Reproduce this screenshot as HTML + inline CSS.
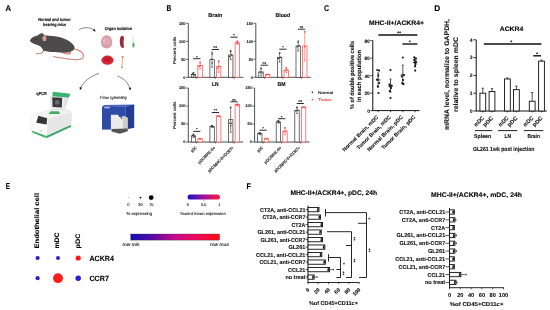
<!DOCTYPE html>
<html><head><meta charset="utf-8"><title>Figure</title>
<style>
html,body{margin:0;padding:0;background:#fff;width:550px;height:310px;overflow:hidden}
svg{display:block}
text{text-rendering:geometricPrecision;font-family:"Liberation Sans", Arial, sans-serif}
</style></head>
<body>
<svg width="550" height="310" viewBox="0 0 550 310">
<defs>
<linearGradient id="gsm" x1="0" x2="1" y1="0" y2="0">
<stop offset="0" stop-color="#1a10c8"/><stop offset="0.5" stop-color="#a0109a"/><stop offset="1" stop-color="#ff1a3a"/>
</linearGradient>
<linearGradient id="grow" x1="0" x2="1" y1="0" y2="0">
<stop offset="0" stop-color="#1010b0"/><stop offset="0.25" stop-color="#5a0aa6"/><stop offset="0.5" stop-color="#c80a8a"/><stop offset="0.75" stop-color="#f00a55"/><stop offset="1" stop-color="#ff0a12"/>
</linearGradient>
</defs>
<rect width="550" height="310" fill="#fff"/>
<text x="215.30" y="17.00" font-size="5.6" font-weight="bold" text-anchor="middle" fill="#000" textLength="14.00" lengthAdjust="spacingAndGlyphs" stroke="#000" stroke-width="0.1">Brain</text>
<line x1="188.30" y1="23.30" x2="188.30" y2="77.60" stroke="#333" stroke-width="0.85"/>
<line x1="188.00" y1="77.30" x2="243.30" y2="77.30" stroke="#333" stroke-width="0.85"/>
<line x1="185.90" y1="77.30" x2="188.30" y2="77.30" stroke="#333" stroke-width="0.7"/>
<text x="185.50" y="78.70" font-size="3.9" font-weight="bold" text-anchor="end" fill="#222" stroke="#222" stroke-width="0.1">0</text>
<line x1="185.90" y1="59.30" x2="188.30" y2="59.30" stroke="#333" stroke-width="0.7"/>
<text x="185.50" y="60.70" font-size="3.9" font-weight="bold" text-anchor="end" fill="#222" stroke="#222" stroke-width="0.1">50</text>
<line x1="185.90" y1="41.30" x2="188.30" y2="41.30" stroke="#333" stroke-width="0.7"/>
<text x="185.50" y="42.70" font-size="3.9" font-weight="bold" text-anchor="end" fill="#222" stroke="#222" stroke-width="0.1">100</text>
<line x1="185.90" y1="23.30" x2="188.30" y2="23.30" stroke="#333" stroke-width="0.7"/>
<text x="185.50" y="24.70" font-size="3.9" font-weight="bold" text-anchor="end" fill="#222" stroke="#222" stroke-width="0.1">150</text>
<text x="176.20" y="50.50" font-size="4.2" font-weight="normal" text-anchor="middle" fill="#111" transform="rotate(-90 176.20 50.50)" textLength="27.50" lengthAdjust="spacingAndGlyphs" stroke="#111" stroke-width="0.12">Percent cells</text>
<line x1="196.80" y1="77.30" x2="196.80" y2="78.90" stroke="#333" stroke-width="0.7"/>
<rect x="191.30" y="74.42" width="4.40" height="2.88" fill="#fff" stroke="#333" stroke-width="0.7"/>
<line x1="193.50" y1="76.22" x2="193.50" y2="72.62" stroke="#333" stroke-width="0.6"/>
<line x1="192.50" y1="72.62" x2="194.50" y2="72.62" stroke="#333" stroke-width="0.6"/>
<line x1="192.50" y1="76.22" x2="194.50" y2="76.22" stroke="#333" stroke-width="0.6"/>
<circle cx="192.50" cy="73.70" r="0.75" fill="#333"/>
<circle cx="194.30" cy="74.78" r="0.75" fill="#333"/>
<circle cx="193.50" cy="72.98" r="0.75" fill="#333"/>
<rect x="197.90" y="65.42" width="4.40" height="11.88" fill="#fff" stroke="#ff4646" stroke-width="0.7"/>
<line x1="200.10" y1="69.02" x2="200.10" y2="61.82" stroke="#ff4646" stroke-width="0.6"/>
<line x1="199.10" y1="61.82" x2="201.10" y2="61.82" stroke="#ff4646" stroke-width="0.6"/>
<line x1="199.10" y1="69.02" x2="201.10" y2="69.02" stroke="#ff4646" stroke-width="0.6"/>
<circle cx="200.10" cy="62.90" r="0.75" fill="#ff4646"/>
<circle cx="199.10" cy="66.50" r="0.75" fill="#ff4646"/>
<circle cx="201.10" cy="65.42" r="0.75" fill="#ff4646"/>
<line x1="193.20" y1="58.70" x2="200.40" y2="58.70" stroke="#111" stroke-width="0.9"/>
<text x="196.80" y="58.51" font-size="4.4" font-weight="bold" text-anchor="middle" fill="#000">*</text>
<line x1="215.40" y1="77.30" x2="215.40" y2="78.90" stroke="#333" stroke-width="0.7"/>
<rect x="209.90" y="59.66" width="4.40" height="17.64" fill="#fff" stroke="#333" stroke-width="0.7"/>
<line x1="212.10" y1="67.22" x2="212.10" y2="52.10" stroke="#333" stroke-width="0.6"/>
<line x1="211.10" y1="52.10" x2="213.10" y2="52.10" stroke="#333" stroke-width="0.6"/>
<line x1="211.10" y1="67.22" x2="213.10" y2="67.22" stroke="#333" stroke-width="0.6"/>
<circle cx="212.10" cy="53.90" r="0.75" fill="#333"/>
<circle cx="212.10" cy="62.90" r="0.75" fill="#333"/>
<circle cx="211.10" cy="59.30" r="0.75" fill="#333"/>
<rect x="216.50" y="66.50" width="4.40" height="10.80" fill="#fff" stroke="#ff4646" stroke-width="0.7"/>
<line x1="218.70" y1="72.26" x2="218.70" y2="60.74" stroke="#ff4646" stroke-width="0.6"/>
<line x1="217.70" y1="60.74" x2="219.70" y2="60.74" stroke="#ff4646" stroke-width="0.6"/>
<line x1="217.70" y1="72.26" x2="219.70" y2="72.26" stroke="#ff4646" stroke-width="0.6"/>
<circle cx="218.70" cy="61.46" r="0.75" fill="#ff4646"/>
<circle cx="217.70" cy="68.30" r="0.75" fill="#ff4646"/>
<circle cx="219.70" cy="66.50" r="0.75" fill="#ff4646"/>
<line x1="211.80" y1="49.50" x2="219.00" y2="49.50" stroke="#111" stroke-width="0.9"/>
<text x="215.40" y="48.30" font-size="3.6" font-weight="bold" text-anchor="middle" fill="#222" textLength="3.60" lengthAdjust="spacingAndGlyphs" stroke="#222" stroke-width="0.1">ns</text>
<line x1="234.00" y1="77.30" x2="234.00" y2="78.90" stroke="#333" stroke-width="0.7"/>
<rect x="228.50" y="54.98" width="4.40" height="22.32" fill="#fff" stroke="#333" stroke-width="0.7"/>
<line x1="230.70" y1="59.66" x2="230.70" y2="50.30" stroke="#333" stroke-width="0.6"/>
<line x1="229.70" y1="50.30" x2="231.70" y2="50.30" stroke="#333" stroke-width="0.6"/>
<line x1="229.70" y1="59.66" x2="231.70" y2="59.66" stroke="#333" stroke-width="0.6"/>
<circle cx="230.70" cy="51.38" r="0.75" fill="#333"/>
<circle cx="229.70" cy="56.42" r="0.75" fill="#333"/>
<circle cx="231.70" cy="54.98" r="0.75" fill="#333"/>
<rect x="235.10" y="42.74" width="4.40" height="34.56" fill="#fff" stroke="#ff4646" stroke-width="0.7"/>
<line x1="237.30" y1="44.54" x2="237.30" y2="40.94" stroke="#ff4646" stroke-width="0.6"/>
<line x1="236.30" y1="40.94" x2="238.30" y2="40.94" stroke="#ff4646" stroke-width="0.6"/>
<line x1="236.30" y1="44.54" x2="238.30" y2="44.54" stroke="#ff4646" stroke-width="0.6"/>
<circle cx="237.30" cy="41.30" r="0.75" fill="#ff4646"/>
<circle cx="238.30" cy="43.10" r="0.75" fill="#ff4646"/>
<circle cx="236.30" cy="42.74" r="0.75" fill="#ff4646"/>
<line x1="230.40" y1="37.20" x2="237.60" y2="37.20" stroke="#111" stroke-width="0.9"/>
<text x="234.00" y="37.01" font-size="4.4" font-weight="bold" text-anchor="middle" fill="#000">*</text>
<text x="282.80" y="17.00" font-size="5.6" font-weight="bold" text-anchor="middle" fill="#000" textLength="14.40" lengthAdjust="spacingAndGlyphs" stroke="#000" stroke-width="0.1">Blood</text>
<line x1="255.80" y1="23.30" x2="255.80" y2="77.60" stroke="#333" stroke-width="0.85"/>
<line x1="255.50" y1="77.30" x2="310.80" y2="77.30" stroke="#333" stroke-width="0.85"/>
<line x1="253.40" y1="77.30" x2="255.80" y2="77.30" stroke="#333" stroke-width="0.7"/>
<text x="253.00" y="78.70" font-size="3.9" font-weight="bold" text-anchor="end" fill="#222" stroke="#222" stroke-width="0.1">0</text>
<line x1="253.40" y1="59.30" x2="255.80" y2="59.30" stroke="#333" stroke-width="0.7"/>
<text x="253.00" y="60.70" font-size="3.9" font-weight="bold" text-anchor="end" fill="#222" stroke="#222" stroke-width="0.1">50</text>
<line x1="253.40" y1="41.30" x2="255.80" y2="41.30" stroke="#333" stroke-width="0.7"/>
<text x="253.00" y="42.70" font-size="3.9" font-weight="bold" text-anchor="end" fill="#222" stroke="#222" stroke-width="0.1">100</text>
<line x1="253.40" y1="23.30" x2="255.80" y2="23.30" stroke="#333" stroke-width="0.7"/>
<text x="253.00" y="24.70" font-size="3.9" font-weight="bold" text-anchor="end" fill="#222" stroke="#222" stroke-width="0.1">150</text>
<line x1="264.30" y1="77.30" x2="264.30" y2="78.90" stroke="#333" stroke-width="0.7"/>
<rect x="258.80" y="71.90" width="4.40" height="5.40" fill="#fff" stroke="#333" stroke-width="0.7"/>
<line x1="261.00" y1="75.86" x2="261.00" y2="67.94" stroke="#333" stroke-width="0.6"/>
<line x1="260.00" y1="67.94" x2="262.00" y2="67.94" stroke="#333" stroke-width="0.6"/>
<line x1="260.00" y1="75.86" x2="262.00" y2="75.86" stroke="#333" stroke-width="0.6"/>
<circle cx="261.00" cy="68.66" r="0.75" fill="#333"/>
<circle cx="260.00" cy="72.26" r="0.75" fill="#333"/>
<circle cx="262.00" cy="72.98" r="0.75" fill="#333"/>
<rect x="265.40" y="74.42" width="4.40" height="2.88" fill="#fff" stroke="#ff4646" stroke-width="0.7"/>
<line x1="267.60" y1="74.78" x2="267.60" y2="74.06" stroke="#ff4646" stroke-width="0.6"/>
<line x1="266.60" y1="74.06" x2="268.60" y2="74.06" stroke="#ff4646" stroke-width="0.6"/>
<line x1="266.60" y1="74.78" x2="268.60" y2="74.78" stroke="#ff4646" stroke-width="0.6"/>
<circle cx="266.60" cy="74.42" r="0.75" fill="#ff4646"/>
<circle cx="268.60" cy="74.42" r="0.75" fill="#ff4646"/>
<line x1="260.70" y1="65.20" x2="267.90" y2="65.20" stroke="#111" stroke-width="0.9"/>
<text x="264.30" y="64.00" font-size="3.6" font-weight="bold" text-anchor="middle" fill="#222" textLength="3.60" lengthAdjust="spacingAndGlyphs" stroke="#222" stroke-width="0.1">ns</text>
<line x1="282.90" y1="77.30" x2="282.90" y2="78.90" stroke="#333" stroke-width="0.7"/>
<rect x="277.40" y="57.50" width="4.40" height="19.80" fill="#fff" stroke="#333" stroke-width="0.7"/>
<line x1="279.60" y1="62.18" x2="279.60" y2="52.82" stroke="#333" stroke-width="0.6"/>
<line x1="278.60" y1="52.82" x2="280.60" y2="52.82" stroke="#333" stroke-width="0.6"/>
<line x1="278.60" y1="62.18" x2="280.60" y2="62.18" stroke="#333" stroke-width="0.6"/>
<circle cx="279.60" cy="53.54" r="0.75" fill="#333"/>
<circle cx="278.60" cy="58.58" r="0.75" fill="#333"/>
<circle cx="280.60" cy="57.14" r="0.75" fill="#333"/>
<rect x="284.00" y="70.10" width="4.40" height="7.20" fill="#fff" stroke="#ff4646" stroke-width="0.7"/>
<line x1="286.20" y1="72.62" x2="286.20" y2="67.58" stroke="#ff4646" stroke-width="0.6"/>
<line x1="285.20" y1="67.58" x2="287.20" y2="67.58" stroke="#ff4646" stroke-width="0.6"/>
<line x1="285.20" y1="72.62" x2="287.20" y2="72.62" stroke="#ff4646" stroke-width="0.6"/>
<circle cx="286.20" cy="67.94" r="0.75" fill="#ff4646"/>
<circle cx="285.20" cy="70.82" r="0.75" fill="#ff4646"/>
<circle cx="287.20" cy="70.10" r="0.75" fill="#ff4646"/>
<line x1="279.30" y1="49.20" x2="286.50" y2="49.20" stroke="#111" stroke-width="0.9"/>
<text x="282.90" y="49.01" font-size="4.4" font-weight="bold" text-anchor="middle" fill="#000">*</text>
<line x1="301.50" y1="77.30" x2="301.50" y2="78.90" stroke="#333" stroke-width="0.7"/>
<rect x="296.00" y="45.98" width="4.40" height="31.32" fill="#fff" stroke="#333" stroke-width="0.7"/>
<line x1="298.20" y1="51.02" x2="298.20" y2="40.94" stroke="#333" stroke-width="0.6"/>
<line x1="297.20" y1="40.94" x2="299.20" y2="40.94" stroke="#333" stroke-width="0.6"/>
<line x1="297.20" y1="51.02" x2="299.20" y2="51.02" stroke="#333" stroke-width="0.6"/>
<circle cx="298.20" cy="42.02" r="0.75" fill="#333"/>
<circle cx="297.20" cy="46.70" r="0.75" fill="#333"/>
<circle cx="299.20" cy="45.62" r="0.75" fill="#333"/>
<rect x="302.60" y="45.98" width="4.40" height="31.32" fill="#fff" stroke="#ff4646" stroke-width="0.7"/>
<line x1="304.80" y1="60.74" x2="304.80" y2="31.22" stroke="#ff4646" stroke-width="0.6"/>
<line x1="303.80" y1="31.22" x2="305.80" y2="31.22" stroke="#ff4646" stroke-width="0.6"/>
<line x1="303.80" y1="60.74" x2="305.80" y2="60.74" stroke="#ff4646" stroke-width="0.6"/>
<circle cx="304.80" cy="31.94" r="0.75" fill="#ff4646"/>
<circle cx="304.80" cy="46.70" r="0.75" fill="#ff4646"/>
<line x1="297.90" y1="29.20" x2="305.10" y2="29.20" stroke="#111" stroke-width="0.9"/>
<text x="301.50" y="28.00" font-size="3.6" font-weight="bold" text-anchor="middle" fill="#222" textLength="3.60" lengthAdjust="spacingAndGlyphs" stroke="#222" stroke-width="0.1">ns</text>
<text x="215.30" y="86.00" font-size="5.6" font-weight="bold" text-anchor="middle" fill="#000" textLength="6.60" lengthAdjust="spacingAndGlyphs" stroke="#000" stroke-width="0.1">LN</text>
<line x1="188.30" y1="88.00" x2="188.30" y2="142.30" stroke="#333" stroke-width="0.85"/>
<line x1="188.00" y1="142.00" x2="243.30" y2="142.00" stroke="#333" stroke-width="0.85"/>
<line x1="185.90" y1="142.00" x2="188.30" y2="142.00" stroke="#333" stroke-width="0.7"/>
<text x="185.50" y="143.40" font-size="3.9" font-weight="bold" text-anchor="end" fill="#222" stroke="#222" stroke-width="0.1">0</text>
<line x1="185.90" y1="124.00" x2="188.30" y2="124.00" stroke="#333" stroke-width="0.7"/>
<text x="185.50" y="125.40" font-size="3.9" font-weight="bold" text-anchor="end" fill="#222" stroke="#222" stroke-width="0.1">50</text>
<line x1="185.90" y1="106.00" x2="188.30" y2="106.00" stroke="#333" stroke-width="0.7"/>
<text x="185.50" y="107.40" font-size="3.9" font-weight="bold" text-anchor="end" fill="#222" stroke="#222" stroke-width="0.1">100</text>
<line x1="185.90" y1="88.00" x2="188.30" y2="88.00" stroke="#333" stroke-width="0.7"/>
<text x="185.50" y="89.40" font-size="3.9" font-weight="bold" text-anchor="end" fill="#222" stroke="#222" stroke-width="0.1">150</text>
<text x="176.20" y="115.20" font-size="4.2" font-weight="normal" text-anchor="middle" fill="#111" transform="rotate(-90 176.20 115.20)" textLength="27.50" lengthAdjust="spacingAndGlyphs" stroke="#111" stroke-width="0.12">Percent cells</text>
<line x1="196.80" y1="142.00" x2="196.80" y2="143.60" stroke="#333" stroke-width="0.7"/>
<rect x="191.30" y="135.88" width="4.40" height="6.12" fill="#fff" stroke="#333" stroke-width="0.7"/>
<line x1="193.50" y1="137.68" x2="193.50" y2="134.08" stroke="#333" stroke-width="0.6"/>
<line x1="192.50" y1="134.08" x2="194.50" y2="134.08" stroke="#333" stroke-width="0.6"/>
<line x1="192.50" y1="137.68" x2="194.50" y2="137.68" stroke="#333" stroke-width="0.6"/>
<circle cx="192.50" cy="135.52" r="0.75" fill="#333"/>
<circle cx="194.50" cy="136.24" r="0.75" fill="#333"/>
<circle cx="193.50" cy="134.44" r="0.75" fill="#333"/>
<rect x="197.90" y="138.76" width="4.40" height="3.24" fill="#fff" stroke="#ff4646" stroke-width="0.7"/>
<line x1="200.10" y1="139.12" x2="200.10" y2="138.40" stroke="#ff4646" stroke-width="0.6"/>
<line x1="199.10" y1="138.40" x2="201.10" y2="138.40" stroke="#ff4646" stroke-width="0.6"/>
<line x1="199.10" y1="139.12" x2="201.10" y2="139.12" stroke="#ff4646" stroke-width="0.6"/>
<circle cx="199.10" cy="138.76" r="0.75" fill="#ff4646"/>
<circle cx="201.10" cy="138.76" r="0.75" fill="#ff4646"/>
<line x1="193.20" y1="131.40" x2="200.40" y2="131.40" stroke="#111" stroke-width="0.9"/>
<text x="196.80" y="131.21" font-size="4.4" font-weight="bold" text-anchor="middle" fill="#000">*</text>
<line x1="215.40" y1="142.00" x2="215.40" y2="143.60" stroke="#333" stroke-width="0.7"/>
<rect x="209.90" y="126.52" width="4.40" height="15.48" fill="#fff" stroke="#333" stroke-width="0.7"/>
<line x1="212.10" y1="127.60" x2="212.10" y2="125.44" stroke="#333" stroke-width="0.6"/>
<line x1="211.10" y1="125.44" x2="213.10" y2="125.44" stroke="#333" stroke-width="0.6"/>
<line x1="211.10" y1="127.60" x2="213.10" y2="127.60" stroke="#333" stroke-width="0.6"/>
<circle cx="211.10" cy="126.16" r="0.75" fill="#333"/>
<circle cx="213.10" cy="126.88" r="0.75" fill="#333"/>
<circle cx="212.10" cy="125.80" r="0.75" fill="#333"/>
<rect x="216.50" y="116.08" width="4.40" height="25.92" fill="#fff" stroke="#ff4646" stroke-width="0.7"/>
<line x1="218.70" y1="116.44" x2="218.70" y2="115.72" stroke="#ff4646" stroke-width="0.6"/>
<line x1="217.70" y1="115.72" x2="219.70" y2="115.72" stroke="#ff4646" stroke-width="0.6"/>
<line x1="217.70" y1="116.44" x2="219.70" y2="116.44" stroke="#ff4646" stroke-width="0.6"/>
<circle cx="217.70" cy="116.08" r="0.75" fill="#ff4646"/>
<circle cx="219.70" cy="116.44" r="0.75" fill="#ff4646"/>
<line x1="211.80" y1="112.50" x2="219.00" y2="112.50" stroke="#111" stroke-width="0.9"/>
<text x="215.40" y="112.31" font-size="4.4" font-weight="bold" text-anchor="middle" fill="#000">**</text>
<line x1="234.00" y1="142.00" x2="234.00" y2="143.60" stroke="#333" stroke-width="0.7"/>
<rect x="228.50" y="119.68" width="4.40" height="22.32" fill="#fff" stroke="#333" stroke-width="0.7"/>
<line x1="230.70" y1="132.28" x2="230.70" y2="107.08" stroke="#333" stroke-width="0.6"/>
<line x1="229.70" y1="107.08" x2="231.70" y2="107.08" stroke="#333" stroke-width="0.6"/>
<line x1="229.70" y1="132.28" x2="231.70" y2="132.28" stroke="#333" stroke-width="0.6"/>
<circle cx="230.70" cy="107.80" r="0.75" fill="#333"/>
<circle cx="229.70" cy="123.28" r="0.75" fill="#333"/>
<circle cx="231.70" cy="123.28" r="0.75" fill="#333"/>
<circle cx="230.70" cy="125.80" r="0.75" fill="#333"/>
<rect x="235.10" y="104.56" width="4.40" height="37.44" fill="#fff" stroke="#ff4646" stroke-width="0.7"/>
<line x1="237.30" y1="105.28" x2="237.30" y2="103.84" stroke="#ff4646" stroke-width="0.6"/>
<line x1="236.30" y1="103.84" x2="238.30" y2="103.84" stroke="#ff4646" stroke-width="0.6"/>
<line x1="236.30" y1="105.28" x2="238.30" y2="105.28" stroke="#ff4646" stroke-width="0.6"/>
<circle cx="236.30" cy="104.92" r="0.75" fill="#ff4646"/>
<circle cx="238.30" cy="105.64" r="0.75" fill="#ff4646"/>
<circle cx="237.30" cy="104.56" r="0.75" fill="#ff4646"/>
<line x1="230.40" y1="101.80" x2="237.60" y2="101.80" stroke="#111" stroke-width="0.9"/>
<text x="234.00" y="100.60" font-size="3.6" font-weight="bold" text-anchor="middle" fill="#222" textLength="3.60" lengthAdjust="spacingAndGlyphs" stroke="#222" stroke-width="0.1">ns</text>
<text x="196.90" y="148.20" font-size="4.2" font-weight="bold" text-anchor="end" fill="#222" transform="rotate(-45 196.90 148.20)" textLength="6.15" lengthAdjust="spacingAndGlyphs" stroke="#222" stroke-width="0.1">pDC</text>
<text x="215.50" y="148.20" font-size="4.2" font-weight="bold" text-anchor="end" fill="#222" transform="rotate(-45 215.50 148.20)" textLength="22.55" lengthAdjust="spacingAndGlyphs" stroke="#222" stroke-width="0.1">pDC/MHC-II+</text>
<text x="234.10" y="148.20" font-size="4.2" font-weight="bold" text-anchor="end" fill="#222" transform="rotate(-45 234.10 148.20)" textLength="34.85" lengthAdjust="spacingAndGlyphs" stroke="#222" stroke-width="0.1">pDC/MHC-II+/CCR7+</text>
<text x="281.60" y="86.00" font-size="5.6" font-weight="bold" text-anchor="middle" fill="#000" textLength="8.00" lengthAdjust="spacingAndGlyphs" stroke="#000" stroke-width="0.1">BM</text>
<line x1="254.60" y1="88.00" x2="254.60" y2="142.30" stroke="#333" stroke-width="0.85"/>
<line x1="254.30" y1="142.00" x2="309.60" y2="142.00" stroke="#333" stroke-width="0.85"/>
<line x1="252.20" y1="142.00" x2="254.60" y2="142.00" stroke="#333" stroke-width="0.7"/>
<text x="251.80" y="143.40" font-size="3.9" font-weight="bold" text-anchor="end" fill="#222" stroke="#222" stroke-width="0.1">0</text>
<line x1="252.20" y1="124.00" x2="254.60" y2="124.00" stroke="#333" stroke-width="0.7"/>
<text x="251.80" y="125.40" font-size="3.9" font-weight="bold" text-anchor="end" fill="#222" stroke="#222" stroke-width="0.1">50</text>
<line x1="252.20" y1="106.00" x2="254.60" y2="106.00" stroke="#333" stroke-width="0.7"/>
<text x="251.80" y="107.40" font-size="3.9" font-weight="bold" text-anchor="end" fill="#222" stroke="#222" stroke-width="0.1">100</text>
<line x1="252.20" y1="88.00" x2="254.60" y2="88.00" stroke="#333" stroke-width="0.7"/>
<text x="251.80" y="89.40" font-size="3.9" font-weight="bold" text-anchor="end" fill="#222" stroke="#222" stroke-width="0.1">150</text>
<line x1="263.10" y1="142.00" x2="263.10" y2="143.60" stroke="#333" stroke-width="0.7"/>
<rect x="257.60" y="133.72" width="4.40" height="8.28" fill="#fff" stroke="#333" stroke-width="0.7"/>
<line x1="259.80" y1="134.80" x2="259.80" y2="132.64" stroke="#333" stroke-width="0.6"/>
<line x1="258.80" y1="132.64" x2="260.80" y2="132.64" stroke="#333" stroke-width="0.6"/>
<line x1="258.80" y1="134.80" x2="260.80" y2="134.80" stroke="#333" stroke-width="0.6"/>
<circle cx="258.80" cy="133.36" r="0.75" fill="#333"/>
<circle cx="260.80" cy="134.08" r="0.75" fill="#333"/>
<circle cx="259.80" cy="133.00" r="0.75" fill="#333"/>
<rect x="264.20" y="138.76" width="4.40" height="3.24" fill="#fff" stroke="#ff4646" stroke-width="0.7"/>
<line x1="266.40" y1="139.12" x2="266.40" y2="138.40" stroke="#ff4646" stroke-width="0.6"/>
<line x1="265.40" y1="138.40" x2="267.40" y2="138.40" stroke="#ff4646" stroke-width="0.6"/>
<line x1="265.40" y1="139.12" x2="267.40" y2="139.12" stroke="#ff4646" stroke-width="0.6"/>
<circle cx="265.40" cy="138.76" r="0.75" fill="#ff4646"/>
<circle cx="267.40" cy="138.76" r="0.75" fill="#ff4646"/>
<line x1="259.50" y1="130.20" x2="266.70" y2="130.20" stroke="#111" stroke-width="0.9"/>
<text x="263.10" y="130.01" font-size="4.4" font-weight="bold" text-anchor="middle" fill="#000">*</text>
<line x1="281.70" y1="142.00" x2="281.70" y2="143.60" stroke="#333" stroke-width="0.7"/>
<rect x="276.20" y="121.84" width="4.40" height="20.16" fill="#fff" stroke="#333" stroke-width="0.7"/>
<line x1="278.40" y1="123.28" x2="278.40" y2="120.40" stroke="#333" stroke-width="0.6"/>
<line x1="277.40" y1="120.40" x2="279.40" y2="120.40" stroke="#333" stroke-width="0.6"/>
<line x1="277.40" y1="123.28" x2="279.40" y2="123.28" stroke="#333" stroke-width="0.6"/>
<circle cx="277.40" cy="121.48" r="0.75" fill="#333"/>
<circle cx="279.40" cy="122.20" r="0.75" fill="#333"/>
<circle cx="278.40" cy="121.12" r="0.75" fill="#333"/>
<rect x="282.80" y="131.20" width="4.40" height="10.80" fill="#fff" stroke="#ff4646" stroke-width="0.7"/>
<line x1="285.00" y1="134.80" x2="285.00" y2="127.60" stroke="#ff4646" stroke-width="0.6"/>
<line x1="284.00" y1="127.60" x2="286.00" y2="127.60" stroke="#ff4646" stroke-width="0.6"/>
<line x1="284.00" y1="134.80" x2="286.00" y2="134.80" stroke="#ff4646" stroke-width="0.6"/>
<circle cx="285.00" cy="127.96" r="0.75" fill="#ff4646"/>
<circle cx="284.00" cy="131.92" r="0.75" fill="#ff4646"/>
<circle cx="286.00" cy="130.84" r="0.75" fill="#ff4646"/>
<line x1="278.10" y1="118.70" x2="285.30" y2="118.70" stroke="#111" stroke-width="0.9"/>
<text x="281.70" y="118.51" font-size="4.4" font-weight="bold" text-anchor="middle" fill="#000">*</text>
<line x1="300.30" y1="142.00" x2="300.30" y2="143.60" stroke="#333" stroke-width="0.7"/>
<rect x="294.80" y="110.32" width="4.40" height="31.68" fill="#fff" stroke="#333" stroke-width="0.7"/>
<line x1="297.00" y1="113.56" x2="297.00" y2="107.08" stroke="#333" stroke-width="0.6"/>
<line x1="296.00" y1="107.08" x2="298.00" y2="107.08" stroke="#333" stroke-width="0.6"/>
<line x1="296.00" y1="113.56" x2="298.00" y2="113.56" stroke="#333" stroke-width="0.6"/>
<circle cx="297.00" cy="107.80" r="0.75" fill="#333"/>
<circle cx="296.00" cy="111.04" r="0.75" fill="#333"/>
<circle cx="298.00" cy="110.32" r="0.75" fill="#333"/>
<rect x="301.40" y="107.08" width="4.40" height="34.92" fill="#fff" stroke="#ff4646" stroke-width="0.7"/>
<line x1="303.60" y1="107.44" x2="303.60" y2="106.72" stroke="#ff4646" stroke-width="0.6"/>
<line x1="302.60" y1="106.72" x2="304.60" y2="106.72" stroke="#ff4646" stroke-width="0.6"/>
<line x1="302.60" y1="107.44" x2="304.60" y2="107.44" stroke="#ff4646" stroke-width="0.6"/>
<circle cx="302.60" cy="107.44" r="0.75" fill="#ff4646"/>
<circle cx="304.60" cy="107.44" r="0.75" fill="#ff4646"/>
<line x1="296.70" y1="103.50" x2="303.90" y2="103.50" stroke="#111" stroke-width="0.9"/>
<text x="300.30" y="102.30" font-size="3.6" font-weight="bold" text-anchor="middle" fill="#222" textLength="3.60" lengthAdjust="spacingAndGlyphs" stroke="#222" stroke-width="0.1">ns</text>
<text x="263.20" y="148.20" font-size="4.2" font-weight="bold" text-anchor="end" fill="#222" transform="rotate(-45 263.20 148.20)" textLength="6.15" lengthAdjust="spacingAndGlyphs" stroke="#222" stroke-width="0.1">pDC</text>
<text x="281.80" y="148.20" font-size="4.2" font-weight="bold" text-anchor="end" fill="#222" transform="rotate(-45 281.80 148.20)" textLength="22.55" lengthAdjust="spacingAndGlyphs" stroke="#222" stroke-width="0.1">pDC/MHC-II+</text>
<text x="300.40" y="148.20" font-size="4.2" font-weight="bold" text-anchor="end" fill="#222" transform="rotate(-45 300.40 148.20)" textLength="34.85" lengthAdjust="spacingAndGlyphs" stroke="#222" stroke-width="0.1">pDC/MHC-II+/CCR7+</text>
<circle cx="312.40" cy="92.20" r="0.80" fill="#111"/>
<text x="318.00" y="93.60" font-size="3.9" font-weight="normal" text-anchor="start" fill="#000" textLength="15.20" lengthAdjust="spacingAndGlyphs" stroke="#000" stroke-width="0.1">Normal</text>
<circle cx="312.40" cy="99.60" r="0.80" fill="#f53a3a"/>
<text x="318.20" y="101.00" font-size="3.9" font-weight="normal" text-anchor="start" fill="#f53a3a" textLength="13.60" lengthAdjust="spacingAndGlyphs" stroke="#f53a3a" stroke-width="0.1">Tumor</text>
<text x="396.50" y="25.40" font-size="6.6" font-weight="bold" text-anchor="middle" fill="#000" textLength="55.00" lengthAdjust="spacingAndGlyphs" stroke="#000" stroke-width="0.1">MHC-II+/ACKR4+</text>
<line x1="372.80" y1="40.60" x2="372.80" y2="110.90" stroke="#111" stroke-width="1.0"/>
<line x1="372.50" y1="110.60" x2="419.50" y2="110.60" stroke="#111" stroke-width="1.0"/>
<line x1="370.40" y1="110.60" x2="372.80" y2="110.60" stroke="#111" stroke-width="0.8"/>
<text x="369.80" y="112.70" font-size="4.8" font-weight="bold" text-anchor="end" fill="#111" stroke="#111" stroke-width="0.1">0</text>
<line x1="370.40" y1="93.10" x2="372.80" y2="93.10" stroke="#111" stroke-width="0.8"/>
<text x="369.80" y="95.20" font-size="4.8" font-weight="bold" text-anchor="end" fill="#111" stroke="#111" stroke-width="0.1">20</text>
<line x1="370.40" y1="75.60" x2="372.80" y2="75.60" stroke="#111" stroke-width="0.8"/>
<text x="369.80" y="77.70" font-size="4.8" font-weight="bold" text-anchor="end" fill="#111" stroke="#111" stroke-width="0.1">40</text>
<line x1="370.40" y1="58.10" x2="372.80" y2="58.10" stroke="#111" stroke-width="0.8"/>
<text x="369.80" y="60.20" font-size="4.8" font-weight="bold" text-anchor="end" fill="#111" stroke="#111" stroke-width="0.1">60</text>
<line x1="370.40" y1="40.60" x2="372.80" y2="40.60" stroke="#111" stroke-width="0.8"/>
<text x="369.80" y="42.70" font-size="4.8" font-weight="bold" text-anchor="end" fill="#111" stroke="#111" stroke-width="0.1">80</text>
<line x1="378.20" y1="110.60" x2="378.20" y2="112.20" stroke="#111" stroke-width="0.8"/>
<line x1="390.50" y1="110.60" x2="390.50" y2="112.20" stroke="#111" stroke-width="0.8"/>
<line x1="402.80" y1="110.60" x2="402.80" y2="112.20" stroke="#111" stroke-width="0.8"/>
<line x1="415.10" y1="110.60" x2="415.10" y2="112.20" stroke="#111" stroke-width="0.8"/>
<line x1="378.20" y1="86.97" x2="378.20" y2="72.97" stroke="#111" stroke-width="0.7"/>
<line x1="377.20" y1="72.97" x2="379.20" y2="72.97" stroke="#111" stroke-width="0.7"/>
<line x1="377.20" y1="86.97" x2="379.20" y2="86.97" stroke="#111" stroke-width="0.7"/>
<line x1="376.00" y1="79.97" x2="380.40" y2="79.97" stroke="#111" stroke-width="0.9"/>
<circle cx="377.30" cy="70.00" r="1.05" fill="#111"/>
<circle cx="379.10" cy="70.61" r="1.05" fill="#111"/>
<circle cx="378.20" cy="75.60" r="1.05" fill="#111"/>
<circle cx="377.20" cy="79.62" r="1.05" fill="#111"/>
<circle cx="379.20" cy="83.04" r="1.05" fill="#111"/>
<circle cx="377.80" cy="86.62" r="1.05" fill="#111"/>
<circle cx="378.50" cy="93.01" r="1.05" fill="#111"/>
<line x1="390.50" y1="92.22" x2="390.50" y2="79.10" stroke="#111" stroke-width="0.7"/>
<line x1="389.50" y1="79.10" x2="391.50" y2="79.10" stroke="#111" stroke-width="0.7"/>
<line x1="389.50" y1="92.22" x2="391.50" y2="92.22" stroke="#111" stroke-width="0.7"/>
<line x1="388.30" y1="86.10" x2="392.70" y2="86.10" stroke="#111" stroke-width="0.9"/>
<circle cx="390.50" cy="70.00" r="1.05" fill="#111"/>
<circle cx="389.40" cy="84.52" r="1.05" fill="#111"/>
<circle cx="391.60" cy="85.49" r="1.05" fill="#111"/>
<circle cx="390.10" cy="86.54" r="1.05" fill="#111"/>
<circle cx="391.10" cy="88.02" r="1.05" fill="#111"/>
<circle cx="389.70" cy="91.00" r="1.05" fill="#111"/>
<circle cx="390.50" cy="98.00" r="1.05" fill="#111"/>
<line x1="402.80" y1="84.35" x2="402.80" y2="65.10" stroke="#111" stroke-width="0.7"/>
<line x1="401.80" y1="65.10" x2="403.80" y2="65.10" stroke="#111" stroke-width="0.7"/>
<line x1="401.80" y1="84.35" x2="403.80" y2="84.35" stroke="#111" stroke-width="0.7"/>
<line x1="400.60" y1="74.99" x2="405.00" y2="74.99" stroke="#111" stroke-width="0.9"/>
<circle cx="402.80" cy="57.57" r="1.05" fill="#111"/>
<circle cx="403.80" cy="74.99" r="1.05" fill="#111"/>
<circle cx="401.80" cy="76.47" r="1.05" fill="#111"/>
<circle cx="403.00" cy="79.97" r="1.05" fill="#111"/>
<circle cx="402.20" cy="83.04" r="1.05" fill="#111"/>
<circle cx="403.60" cy="84.00" r="1.05" fill="#111"/>
<line x1="415.10" y1="66.85" x2="415.10" y2="58.10" stroke="#111" stroke-width="0.7"/>
<line x1="414.10" y1="58.10" x2="416.10" y2="58.10" stroke="#111" stroke-width="0.7"/>
<line x1="414.10" y1="66.85" x2="416.10" y2="66.85" stroke="#111" stroke-width="0.7"/>
<line x1="412.90" y1="62.47" x2="417.30" y2="62.47" stroke="#111" stroke-width="0.9"/>
<circle cx="414.30" cy="57.40" r="1.05" fill="#111"/>
<circle cx="416.00" cy="58.62" r="1.05" fill="#111"/>
<circle cx="414.10" cy="60.02" r="1.05" fill="#111"/>
<circle cx="415.80" cy="61.42" r="1.05" fill="#111"/>
<circle cx="414.80" cy="62.56" r="1.05" fill="#111"/>
<circle cx="415.60" cy="63.96" r="1.05" fill="#111"/>
<circle cx="415.10" cy="65.97" r="1.05" fill="#111"/>
<circle cx="415.20" cy="70.61" r="1.05" fill="#111"/>
<line x1="378.40" y1="35.00" x2="417.40" y2="35.00" stroke="#111" stroke-width="1.4"/>
<text x="399.00" y="34.61" font-size="5.4" font-weight="bold" text-anchor="middle" fill="#000">**</text>
<line x1="402.40" y1="44.00" x2="417.40" y2="44.00" stroke="#111" stroke-width="1.4"/>
<text x="409.80" y="43.81" font-size="5.4" font-weight="bold" text-anchor="middle" fill="#000">*</text>
<text x="354.00" y="75.00" font-size="5.9" font-weight="bold" text-anchor="middle" fill="#111" transform="rotate(-90 354.00 75.00)" textLength="68.00" lengthAdjust="spacingAndGlyphs" stroke="#111" stroke-width="0.1">% of double positive cells</text>
<text x="360.60" y="76.00" font-size="5.9" font-weight="bold" text-anchor="middle" fill="#111" transform="rotate(-90 360.60 76.00)" textLength="52.00" lengthAdjust="spacingAndGlyphs" stroke="#111" stroke-width="0.1">in each population</text>
<text x="378.80" y="117.50" font-size="5.3" font-weight="bold" text-anchor="end" fill="#111" transform="rotate(-45 378.80 117.50)" textLength="48.45" lengthAdjust="spacingAndGlyphs" stroke="#111" stroke-width="0.1">Normal Brain, mDC</text>
<text x="391.10" y="117.50" font-size="5.3" font-weight="bold" text-anchor="end" fill="#111" transform="rotate(-45 391.10 117.50)" textLength="45.60" lengthAdjust="spacingAndGlyphs" stroke="#111" stroke-width="0.1">Tumor Brain, mDC</text>
<text x="403.40" y="117.50" font-size="5.3" font-weight="bold" text-anchor="end" fill="#111" transform="rotate(-45 403.40 117.50)" textLength="48.45" lengthAdjust="spacingAndGlyphs" stroke="#111" stroke-width="0.1">Normal Brain, pDC</text>
<text x="415.70" y="117.50" font-size="5.3" font-weight="bold" text-anchor="end" fill="#111" transform="rotate(-45 415.70 117.50)" textLength="45.60" lengthAdjust="spacingAndGlyphs" stroke="#111" stroke-width="0.1">Tumor Brain, pDC</text>
<text x="511.50" y="30.60" font-size="6.6" font-weight="bold" text-anchor="middle" fill="#000" textLength="23.60" lengthAdjust="spacingAndGlyphs" stroke="#000" stroke-width="0.1">ACKR4</text>
<line x1="476.20" y1="39.80" x2="476.20" y2="111.30" stroke="#111" stroke-width="1.0"/>
<line x1="475.90" y1="111.00" x2="546.80" y2="111.00" stroke="#111" stroke-width="1.0"/>
<line x1="473.20" y1="111.00" x2="476.20" y2="111.00" stroke="#111" stroke-width="0.8"/>
<text x="472.60" y="112.80" font-size="5.0" font-weight="bold" text-anchor="end" fill="#111" stroke="#111" stroke-width="0.1">0</text>
<line x1="473.20" y1="93.20" x2="476.20" y2="93.20" stroke="#111" stroke-width="0.8"/>
<text x="472.60" y="95.00" font-size="5.0" font-weight="bold" text-anchor="end" fill="#111" stroke="#111" stroke-width="0.1">1</text>
<line x1="473.20" y1="75.40" x2="476.20" y2="75.40" stroke="#111" stroke-width="0.8"/>
<text x="472.60" y="77.20" font-size="5.0" font-weight="bold" text-anchor="end" fill="#111" stroke="#111" stroke-width="0.1">2</text>
<line x1="473.20" y1="57.60" x2="476.20" y2="57.60" stroke="#111" stroke-width="0.8"/>
<text x="472.60" y="59.40" font-size="5.0" font-weight="bold" text-anchor="end" fill="#111" stroke="#111" stroke-width="0.1">3</text>
<line x1="473.20" y1="39.80" x2="476.20" y2="39.80" stroke="#111" stroke-width="0.8"/>
<text x="472.60" y="41.60" font-size="5.0" font-weight="bold" text-anchor="end" fill="#111" stroke="#111" stroke-width="0.1">4</text>
<rect x="479.90" y="93.20" width="5.80" height="17.80" fill="#fff" stroke="#111" stroke-width="0.9"/>
<line x1="482.80" y1="93.20" x2="482.80" y2="88.22" stroke="#111" stroke-width="0.7"/>
<line x1="481.60" y1="88.22" x2="484.00" y2="88.22" stroke="#111" stroke-width="0.7"/>
<line x1="482.80" y1="111.00" x2="482.80" y2="112.50" stroke="#111" stroke-width="0.6"/>
<rect x="489.10" y="91.42" width="5.80" height="19.58" fill="#fff" stroke="#111" stroke-width="0.9"/>
<line x1="492.00" y1="91.42" x2="492.00" y2="88.57" stroke="#111" stroke-width="0.7"/>
<line x1="490.80" y1="88.57" x2="493.20" y2="88.57" stroke="#111" stroke-width="0.7"/>
<line x1="492.00" y1="111.00" x2="492.00" y2="112.50" stroke="#111" stroke-width="0.6"/>
<rect x="504.50" y="78.96" width="5.80" height="32.04" fill="#fff" stroke="#111" stroke-width="0.9"/>
<line x1="507.40" y1="78.96" x2="507.40" y2="77.89" stroke="#111" stroke-width="0.7"/>
<line x1="506.20" y1="77.89" x2="508.60" y2="77.89" stroke="#111" stroke-width="0.7"/>
<line x1="507.40" y1="111.00" x2="507.40" y2="112.50" stroke="#111" stroke-width="0.6"/>
<rect x="513.50" y="89.64" width="5.80" height="21.36" fill="#fff" stroke="#111" stroke-width="0.9"/>
<line x1="516.40" y1="89.64" x2="516.40" y2="86.08" stroke="#111" stroke-width="0.7"/>
<line x1="515.20" y1="86.08" x2="517.60" y2="86.08" stroke="#111" stroke-width="0.7"/>
<line x1="516.40" y1="111.00" x2="516.40" y2="112.50" stroke="#111" stroke-width="0.6"/>
<rect x="529.30" y="101.21" width="5.80" height="9.79" fill="#fff" stroke="#111" stroke-width="0.9"/>
<line x1="532.20" y1="101.21" x2="532.20" y2="92.49" stroke="#111" stroke-width="0.7"/>
<line x1="531.00" y1="92.49" x2="533.40" y2="92.49" stroke="#111" stroke-width="0.7"/>
<line x1="532.20" y1="111.00" x2="532.20" y2="112.50" stroke="#111" stroke-width="0.6"/>
<rect x="538.60" y="61.16" width="5.80" height="49.84" fill="#fff" stroke="#111" stroke-width="0.9"/>
<line x1="541.50" y1="61.16" x2="541.50" y2="60.09" stroke="#111" stroke-width="0.7"/>
<line x1="540.30" y1="60.09" x2="542.70" y2="60.09" stroke="#111" stroke-width="0.7"/>
<line x1="541.50" y1="111.00" x2="541.50" y2="112.50" stroke="#111" stroke-width="0.6"/>
<line x1="483.80" y1="44.00" x2="541.40" y2="44.00" stroke="#111" stroke-width="1.4"/>
<text x="511.20" y="43.71" font-size="5.4" font-weight="bold" text-anchor="middle" fill="#000">*</text>
<line x1="533.20" y1="55.80" x2="541.00" y2="55.80" stroke="#111" stroke-width="1.4"/>
<text x="537.10" y="55.71" font-size="5.4" font-weight="bold" text-anchor="middle" fill="#000">*</text>
<text x="447.60" y="74.50" font-size="6.7" font-weight="bold" text-anchor="middle" fill="#111" transform="rotate(-90 447.60 74.50)" textLength="111.00" lengthAdjust="spacingAndGlyphs" dominant-baseline="central" stroke="#111" stroke-width="0.1">mRNA level, normalize to GAPDH,</text>
<text x="456.20" y="74.50" font-size="6.7" font-weight="bold" text-anchor="middle" fill="#111" transform="rotate(-90 456.20 74.50)" textLength="75.00" lengthAdjust="spacingAndGlyphs" dominant-baseline="central" stroke="#111" stroke-width="0.1">relative to spleen mDC</text>
<text x="484.40" y="118.60" font-size="5.6" font-weight="bold" text-anchor="end" fill="#111" transform="rotate(-45 484.40 118.60)" textLength="12.00" lengthAdjust="spacingAndGlyphs" stroke="#111" stroke-width="0.1">mDC</text>
<text x="493.60" y="118.60" font-size="5.6" font-weight="bold" text-anchor="end" fill="#111" transform="rotate(-45 493.60 118.60)" textLength="12.00" lengthAdjust="spacingAndGlyphs" stroke="#111" stroke-width="0.1">pDC</text>
<text x="509.00" y="118.60" font-size="5.6" font-weight="bold" text-anchor="end" fill="#111" transform="rotate(-45 509.00 118.60)" textLength="12.00" lengthAdjust="spacingAndGlyphs" stroke="#111" stroke-width="0.1">mDC</text>
<text x="518.00" y="118.60" font-size="5.6" font-weight="bold" text-anchor="end" fill="#111" transform="rotate(-45 518.00 118.60)" textLength="12.00" lengthAdjust="spacingAndGlyphs" stroke="#111" stroke-width="0.1">pDC</text>
<text x="533.80" y="118.60" font-size="5.6" font-weight="bold" text-anchor="end" fill="#111" transform="rotate(-45 533.80 118.60)" textLength="12.00" lengthAdjust="spacingAndGlyphs" stroke="#111" stroke-width="0.1">mDC</text>
<text x="543.10" y="118.60" font-size="5.6" font-weight="bold" text-anchor="end" fill="#111" transform="rotate(-45 543.10 118.60)" textLength="12.00" lengthAdjust="spacingAndGlyphs" stroke="#111" stroke-width="0.1">pDC</text>
<line x1="475.00" y1="130.60" x2="492.20" y2="130.60" stroke="#222" stroke-width="1.0"/>
<text x="482.60" y="138.20" font-size="5.8" font-weight="bold" text-anchor="middle" fill="#111" textLength="17.00" lengthAdjust="spacingAndGlyphs" stroke="#111" stroke-width="0.1">Spleen</text>
<line x1="498.00" y1="130.60" x2="517.30" y2="130.60" stroke="#222" stroke-width="1.0"/>
<text x="507.70" y="138.20" font-size="5.8" font-weight="bold" text-anchor="middle" fill="#111" textLength="6.60" lengthAdjust="spacingAndGlyphs" stroke="#111" stroke-width="0.1">LN</text>
<line x1="523.80" y1="130.60" x2="543.30" y2="130.60" stroke="#222" stroke-width="1.0"/>
<text x="533.70" y="138.20" font-size="5.8" font-weight="bold" text-anchor="middle" fill="#111" textLength="12.60" lengthAdjust="spacingAndGlyphs" stroke="#111" stroke-width="0.1">Brain</text>
<text x="503.70" y="151.20" font-size="5.9" font-weight="bold" text-anchor="middle" fill="#111" textLength="61.40" lengthAdjust="spacingAndGlyphs" stroke="#111" stroke-width="0.1">GL261 1wk post injection</text>
<text x="37.60" y="248.50" font-size="6.6" font-weight="bold" text-anchor="start" fill="#000" transform="rotate(-90 37.60 248.50)" textLength="55.50" lengthAdjust="spacingAndGlyphs" dominant-baseline="central" stroke="#000" stroke-width="0.1">Endothelial cell</text>
<text x="57.60" y="248.50" font-size="6.6" font-weight="bold" text-anchor="start" fill="#000" transform="rotate(-90 57.60 248.50)" textLength="16.00" lengthAdjust="spacingAndGlyphs" dominant-baseline="central" stroke="#000" stroke-width="0.1">mDC</text>
<text x="78.40" y="248.50" font-size="6.6" font-weight="bold" text-anchor="start" fill="#000" transform="rotate(-90 78.40 248.50)" textLength="15.00" lengthAdjust="spacingAndGlyphs" dominant-baseline="central" stroke="#000" stroke-width="0.1">pDC</text>
<circle cx="37.60" cy="258.00" r="2.10" fill="#2a1fd0"/>
<circle cx="58.00" cy="258.00" r="2.00" fill="#2a1fd0"/>
<circle cx="78.20" cy="258.00" r="2.60" fill="#ff1a1a"/>
<circle cx="37.60" cy="278.20" r="2.10" fill="#2a1fd0"/>
<circle cx="58.00" cy="278.20" r="4.90" fill="#ff1a1a"/>
<circle cx="78.20" cy="278.20" r="2.70" fill="#2a1fd0"/>
<text x="89.40" y="260.90" font-size="7.6" font-weight="bold" text-anchor="start" fill="#000" textLength="24.50" lengthAdjust="spacingAndGlyphs" stroke="#000" stroke-width="0.1">ACKR4</text>
<text x="89.40" y="281.10" font-size="7.6" font-weight="bold" text-anchor="start" fill="#000" textLength="19.50" lengthAdjust="spacingAndGlyphs" stroke="#000" stroke-width="0.1">CCR7</text>
<circle cx="128.40" cy="197.60" r="0.35" fill="#000"/>
<circle cx="140.40" cy="197.60" r="0.95" fill="#000"/>
<circle cx="151.20" cy="197.60" r="2.40" fill="#000"/>
<text x="128.40" y="206.00" font-size="4.0" font-weight="normal" text-anchor="middle" fill="#111" stroke="#111" stroke-width="0.1">0</text>
<text x="140.40" y="206.00" font-size="4.0" font-weight="normal" text-anchor="middle" fill="#111" stroke="#111" stroke-width="0.1">30</text>
<text x="151.20" y="206.00" font-size="4.0" font-weight="normal" text-anchor="middle" fill="#111" stroke="#111" stroke-width="0.1">75</text>
<text x="139.30" y="214.50" font-size="4.1" font-weight="normal" text-anchor="middle" fill="#222" textLength="25.50" lengthAdjust="spacingAndGlyphs" stroke="#222" stroke-width="0.1">% expressing</text>
<rect x="187.6" y="194.4" width="32.4" height="5.2" rx="2.6" fill="url(#gsm)"/>
<line x1="203.80" y1="199.60" x2="203.80" y2="201.00" stroke="#d0007a" stroke-width="0.5"/>
<text x="187.80" y="206.00" font-size="4.0" font-weight="normal" text-anchor="middle" fill="#111" stroke="#111" stroke-width="0.1">0</text>
<text x="203.80" y="206.00" font-size="4.0" font-weight="normal" text-anchor="middle" fill="#111" stroke="#111" stroke-width="0.1">0.5</text>
<text x="219.40" y="206.00" font-size="4.0" font-weight="normal" text-anchor="middle" fill="#111" stroke="#111" stroke-width="0.1">1</text>
<text x="203.00" y="214.50" font-size="4.1" font-weight="normal" text-anchor="middle" fill="#222" textLength="45.50" lengthAdjust="spacingAndGlyphs" stroke="#222" stroke-width="0.1">Scaled mean expression</text>
<rect x="130.7" y="234.0" width="88.9" height="6.1" fill="url(#grow)" stroke="#333" stroke-width="0.3"/>
<text x="122.40" y="245.80" font-size="4.6" font-weight="normal" text-anchor="start" fill="#111" textLength="17.20" lengthAdjust="spacingAndGlyphs" font-style="italic" stroke="#111" stroke-width="0.1">row min</text>
<text x="210.00" y="245.80" font-size="4.6" font-weight="normal" text-anchor="start" fill="#111" textLength="19.00" lengthAdjust="spacingAndGlyphs" font-style="italic" stroke="#111" stroke-width="0.1">row max</text>
<text x="5.80" y="188.60" font-size="8.8" font-weight="bold" text-anchor="start" fill="#000" textLength="4.30" lengthAdjust="spacingAndGlyphs" stroke="#000" stroke-width="0.1">E</text>
<text x="290.40" y="194.80" font-size="6.7" font-weight="bold" text-anchor="start" fill="#000" textLength="86.60" lengthAdjust="spacingAndGlyphs" stroke="#000" stroke-width="0.1">MHC-II+/ACKR4+, pDC, 24h</text>
<line x1="308.00" y1="205.60" x2="308.00" y2="282.80" stroke="#111" stroke-width="0.9"/>
<line x1="307.70" y1="282.50" x2="359.50" y2="282.50" stroke="#111" stroke-width="0.9"/>
<line x1="308.00" y1="282.50" x2="308.00" y2="284.10" stroke="#111" stroke-width="0.7"/>
<text x="309.80" y="290.10" font-size="5.2" font-weight="bold" text-anchor="end" fill="#111" transform="rotate(-45 309.80 290.10)" stroke="#111" stroke-width="0.1">0</text>
<line x1="318.22" y1="282.50" x2="318.22" y2="284.10" stroke="#111" stroke-width="0.7"/>
<text x="320.02" y="290.10" font-size="5.2" font-weight="bold" text-anchor="end" fill="#111" transform="rotate(-45 320.02 290.10)" stroke="#111" stroke-width="0.1">20</text>
<line x1="328.44" y1="282.50" x2="328.44" y2="284.10" stroke="#111" stroke-width="0.7"/>
<text x="330.24" y="290.10" font-size="5.2" font-weight="bold" text-anchor="end" fill="#111" transform="rotate(-45 330.24 290.10)" stroke="#111" stroke-width="0.1">40</text>
<line x1="338.66" y1="282.50" x2="338.66" y2="284.10" stroke="#111" stroke-width="0.7"/>
<text x="340.46" y="290.10" font-size="5.2" font-weight="bold" text-anchor="end" fill="#111" transform="rotate(-45 340.46 290.10)" stroke="#111" stroke-width="0.1">60</text>
<line x1="348.88" y1="282.50" x2="348.88" y2="284.10" stroke="#111" stroke-width="0.7"/>
<text x="350.68" y="290.10" font-size="5.2" font-weight="bold" text-anchor="end" fill="#111" transform="rotate(-45 350.68 290.10)" stroke="#111" stroke-width="0.1">80</text>
<line x1="359.10" y1="282.50" x2="359.10" y2="284.10" stroke="#111" stroke-width="0.7"/>
<text x="360.90" y="290.10" font-size="5.2" font-weight="bold" text-anchor="end" fill="#111" transform="rotate(-45 360.90 290.10)" stroke="#111" stroke-width="0.1">100</text>
<line x1="305.70" y1="209.60" x2="308.00" y2="209.60" stroke="#111" stroke-width="0.7"/>
<text x="305.40" y="211.60" font-size="5.6" font-weight="bold" text-anchor="end" fill="#111" textLength="45.40" lengthAdjust="spacingAndGlyphs" stroke="#111" stroke-width="0.1">CT2A, anti-CCL21</text>
<rect x="308.00" y="207.45" width="10.99" height="4.30" fill="#fff" stroke="#111" stroke-width="0.9"/>
<circle cx="317.89" cy="208.90" r="0.85" fill="#111"/>
<circle cx="317.69" cy="210.30" r="0.85" fill="#111"/>
<line x1="305.70" y1="217.10" x2="308.00" y2="217.10" stroke="#111" stroke-width="0.7"/>
<text x="305.40" y="219.10" font-size="5.6" font-weight="bold" text-anchor="end" fill="#111" textLength="43.00" lengthAdjust="spacingAndGlyphs" stroke="#111" stroke-width="0.1">CT2A, anti-CCR7</text>
<rect x="308.00" y="214.95" width="12.52" height="4.30" fill="#fff" stroke="#111" stroke-width="0.9"/>
<circle cx="319.42" cy="216.40" r="0.85" fill="#111"/>
<circle cx="319.22" cy="217.80" r="0.85" fill="#111"/>
<line x1="305.70" y1="224.60" x2="308.00" y2="224.60" stroke="#111" stroke-width="0.7"/>
<text x="305.40" y="226.60" font-size="5.6" font-weight="bold" text-anchor="end" fill="#111" textLength="14.00" lengthAdjust="spacingAndGlyphs" stroke="#111" stroke-width="0.1">CT2A</text>
<rect x="308.00" y="222.45" width="14.56" height="4.30" fill="#fff" stroke="#111" stroke-width="0.9"/>
<circle cx="321.46" cy="223.90" r="0.85" fill="#111"/>
<circle cx="321.26" cy="225.30" r="0.85" fill="#111"/>
<line x1="305.70" y1="232.10" x2="308.00" y2="232.10" stroke="#111" stroke-width="0.7"/>
<text x="305.40" y="234.10" font-size="5.6" font-weight="bold" text-anchor="end" fill="#111" textLength="48.00" lengthAdjust="spacingAndGlyphs" stroke="#111" stroke-width="0.1">GL261, anti-CCL21</text>
<rect x="308.00" y="229.95" width="13.29" height="4.30" fill="#fff" stroke="#111" stroke-width="0.9"/>
<circle cx="320.19" cy="231.40" r="0.85" fill="#111"/>
<circle cx="319.99" cy="232.80" r="0.85" fill="#111"/>
<line x1="305.70" y1="239.60" x2="308.00" y2="239.60" stroke="#111" stroke-width="0.7"/>
<text x="305.40" y="241.60" font-size="5.6" font-weight="bold" text-anchor="end" fill="#111" textLength="45.00" lengthAdjust="spacingAndGlyphs" stroke="#111" stroke-width="0.1">GL261, anti-CCR7</text>
<rect x="308.00" y="237.45" width="14.56" height="4.30" fill="#fff" stroke="#111" stroke-width="0.9"/>
<circle cx="321.46" cy="238.90" r="0.85" fill="#111"/>
<circle cx="321.26" cy="240.30" r="0.85" fill="#111"/>
<line x1="305.70" y1="247.10" x2="308.00" y2="247.10" stroke="#111" stroke-width="0.7"/>
<text x="305.40" y="249.10" font-size="5.6" font-weight="bold" text-anchor="end" fill="#111" textLength="17.00" lengthAdjust="spacingAndGlyphs" stroke="#111" stroke-width="0.1">GL261</text>
<rect x="308.00" y="244.95" width="16.86" height="4.30" fill="#fff" stroke="#111" stroke-width="0.9"/>
<circle cx="323.76" cy="246.40" r="0.85" fill="#111"/>
<circle cx="323.56" cy="247.80" r="0.85" fill="#111"/>
<line x1="305.70" y1="254.60" x2="308.00" y2="254.60" stroke="#111" stroke-width="0.7"/>
<text x="305.40" y="256.60" font-size="5.6" font-weight="bold" text-anchor="end" fill="#111" textLength="49.40" lengthAdjust="spacingAndGlyphs" stroke="#111" stroke-width="0.1">CCL21, anti-CCL21</text>
<rect x="308.00" y="252.45" width="13.80" height="4.30" fill="#fff" stroke="#111" stroke-width="0.9"/>
<circle cx="320.70" cy="253.90" r="0.85" fill="#111"/>
<circle cx="320.50" cy="255.30" r="0.85" fill="#111"/>
<line x1="305.70" y1="262.10" x2="308.00" y2="262.10" stroke="#111" stroke-width="0.7"/>
<text x="305.40" y="264.10" font-size="5.6" font-weight="bold" text-anchor="end" fill="#111" textLength="46.00" lengthAdjust="spacingAndGlyphs" stroke="#111" stroke-width="0.1">CCL21, anti-CCR7</text>
<rect x="308.00" y="259.95" width="17.37" height="4.30" fill="#fff" stroke="#111" stroke-width="0.9"/>
<circle cx="324.27" cy="261.40" r="0.85" fill="#111"/>
<circle cx="324.07" cy="262.80" r="0.85" fill="#111"/>
<line x1="305.70" y1="269.60" x2="308.00" y2="269.60" stroke="#111" stroke-width="0.7"/>
<text x="305.40" y="271.60" font-size="5.6" font-weight="bold" text-anchor="end" fill="#111" textLength="17.40" lengthAdjust="spacingAndGlyphs" stroke="#111" stroke-width="0.1">CCL21</text>
<rect x="308.00" y="267.45" width="21.46" height="4.30" fill="#fff" stroke="#111" stroke-width="0.9"/>
<line x1="329.46" y1="269.60" x2="333.55" y2="269.60" stroke="#111" stroke-width="0.6"/>
<line x1="333.55" y1="268.60" x2="333.55" y2="270.60" stroke="#111" stroke-width="0.6"/>
<circle cx="328.36" cy="268.90" r="0.85" fill="#111"/>
<circle cx="328.16" cy="270.30" r="0.85" fill="#111"/>
<line x1="305.70" y1="277.10" x2="308.00" y2="277.10" stroke="#111" stroke-width="0.7"/>
<text x="305.40" y="279.10" font-size="5.6" font-weight="bold" text-anchor="end" fill="#111" textLength="20.00" lengthAdjust="spacingAndGlyphs" stroke="#111" stroke-width="0.1">no treat</text>
<rect x="308.00" y="274.95" width="6.13" height="4.30" fill="#fff" stroke="#111" stroke-width="0.9"/>
<line x1="314.13" y1="277.10" x2="317.20" y2="277.10" stroke="#111" stroke-width="0.6"/>
<line x1="317.20" y1="276.10" x2="317.20" y2="278.10" stroke="#111" stroke-width="0.6"/>
<circle cx="313.03" cy="276.40" r="0.85" fill="#111"/>
<circle cx="312.83" cy="277.80" r="0.85" fill="#111"/>
<text x="333.40" y="304.80" font-size="5.6" font-weight="bold" text-anchor="middle" fill="#111" textLength="49.00" lengthAdjust="spacingAndGlyphs" stroke="#111" stroke-width="0.1">%of CD45+CD11c+</text>
<text x="431.00" y="196.80" font-size="6.7" font-weight="bold" text-anchor="start" fill="#000" textLength="91.00" lengthAdjust="spacingAndGlyphs" stroke="#000" stroke-width="0.1">MHC-II+/ACKR4+, mDC, 24h</text>
<line x1="449.50" y1="208.00" x2="449.50" y2="288.00" stroke="#111" stroke-width="0.9"/>
<line x1="449.20" y1="287.70" x2="503.90" y2="287.70" stroke="#111" stroke-width="0.9"/>
<line x1="449.50" y1="287.70" x2="449.50" y2="289.30" stroke="#111" stroke-width="0.7"/>
<text x="449.50" y="297.20" font-size="5.6" font-weight="bold" text-anchor="middle" fill="#111" stroke="#111" stroke-width="0.1">0</text>
<line x1="460.30" y1="287.70" x2="460.30" y2="289.30" stroke="#111" stroke-width="0.7"/>
<text x="460.30" y="297.20" font-size="5.6" font-weight="bold" text-anchor="middle" fill="#111" stroke="#111" stroke-width="0.1">20</text>
<line x1="471.10" y1="287.70" x2="471.10" y2="289.30" stroke="#111" stroke-width="0.7"/>
<text x="471.10" y="297.20" font-size="5.6" font-weight="bold" text-anchor="middle" fill="#111" stroke="#111" stroke-width="0.1">40</text>
<line x1="481.90" y1="287.70" x2="481.90" y2="289.30" stroke="#111" stroke-width="0.7"/>
<text x="481.90" y="297.20" font-size="5.6" font-weight="bold" text-anchor="middle" fill="#111" stroke="#111" stroke-width="0.1">60</text>
<line x1="492.70" y1="287.70" x2="492.70" y2="289.30" stroke="#111" stroke-width="0.7"/>
<text x="492.70" y="297.20" font-size="5.6" font-weight="bold" text-anchor="middle" fill="#111" stroke="#111" stroke-width="0.1">80</text>
<line x1="503.50" y1="287.70" x2="503.50" y2="289.30" stroke="#111" stroke-width="0.7"/>
<text x="503.50" y="297.20" font-size="5.6" font-weight="bold" text-anchor="middle" fill="#111" stroke="#111" stroke-width="0.1">100</text>
<line x1="445.50" y1="212.00" x2="449.50" y2="212.00" stroke="#111" stroke-width="0.7"/>
<text x="445.20" y="214.00" font-size="5.6" font-weight="bold" text-anchor="end" fill="#111" textLength="45.99" lengthAdjust="spacingAndGlyphs" stroke="#111" stroke-width="0.1">CT2A, anti-CCL21</text>
<rect x="449.50" y="209.85" width="4.86" height="4.30" fill="#fff" stroke="#111" stroke-width="0.9"/>
<circle cx="453.26" cy="211.30" r="0.85" fill="#111"/>
<circle cx="453.06" cy="212.70" r="0.85" fill="#111"/>
<line x1="445.50" y1="219.82" x2="449.50" y2="219.82" stroke="#111" stroke-width="0.7"/>
<text x="445.20" y="221.82" font-size="5.6" font-weight="bold" text-anchor="end" fill="#111" textLength="43.56" lengthAdjust="spacingAndGlyphs" stroke="#111" stroke-width="0.1">CT2A, anti-CCR7</text>
<rect x="449.50" y="217.67" width="5.40" height="4.30" fill="#fff" stroke="#111" stroke-width="0.9"/>
<line x1="454.90" y1="219.82" x2="455.98" y2="219.82" stroke="#111" stroke-width="0.6"/>
<line x1="455.98" y1="218.82" x2="455.98" y2="220.82" stroke="#111" stroke-width="0.6"/>
<circle cx="453.80" cy="219.12" r="0.85" fill="#111"/>
<circle cx="453.60" cy="220.52" r="0.85" fill="#111"/>
<line x1="445.50" y1="227.64" x2="449.50" y2="227.64" stroke="#111" stroke-width="0.7"/>
<text x="445.20" y="229.64" font-size="5.6" font-weight="bold" text-anchor="end" fill="#111" textLength="14.18" lengthAdjust="spacingAndGlyphs" stroke="#111" stroke-width="0.1">CT2A</text>
<rect x="449.50" y="225.49" width="4.86" height="4.30" fill="#fff" stroke="#111" stroke-width="0.9"/>
<circle cx="453.26" cy="226.94" r="0.85" fill="#111"/>
<circle cx="453.06" cy="228.34" r="0.85" fill="#111"/>
<line x1="445.50" y1="235.46" x2="449.50" y2="235.46" stroke="#111" stroke-width="0.7"/>
<text x="445.20" y="237.46" font-size="5.6" font-weight="bold" text-anchor="end" fill="#111" textLength="48.62" lengthAdjust="spacingAndGlyphs" stroke="#111" stroke-width="0.1">GL261, anti-CCL21</text>
<rect x="449.50" y="233.31" width="5.40" height="4.30" fill="#fff" stroke="#111" stroke-width="0.9"/>
<line x1="454.90" y1="235.46" x2="456.52" y2="235.46" stroke="#111" stroke-width="0.6"/>
<line x1="456.52" y1="234.46" x2="456.52" y2="236.46" stroke="#111" stroke-width="0.6"/>
<circle cx="453.80" cy="234.76" r="0.85" fill="#111"/>
<circle cx="453.60" cy="236.16" r="0.85" fill="#111"/>
<line x1="445.50" y1="243.28" x2="449.50" y2="243.28" stroke="#111" stroke-width="0.7"/>
<text x="445.20" y="245.28" font-size="5.6" font-weight="bold" text-anchor="end" fill="#111" textLength="45.58" lengthAdjust="spacingAndGlyphs" stroke="#111" stroke-width="0.1">GL261, anti-CCR7</text>
<rect x="449.50" y="241.13" width="5.40" height="4.30" fill="#fff" stroke="#111" stroke-width="0.9"/>
<line x1="454.90" y1="243.28" x2="456.52" y2="243.28" stroke="#111" stroke-width="0.6"/>
<line x1="456.52" y1="242.28" x2="456.52" y2="244.28" stroke="#111" stroke-width="0.6"/>
<circle cx="453.80" cy="242.58" r="0.85" fill="#111"/>
<circle cx="453.60" cy="243.98" r="0.85" fill="#111"/>
<line x1="445.50" y1="251.10" x2="449.50" y2="251.10" stroke="#111" stroke-width="0.7"/>
<text x="445.20" y="253.10" font-size="5.6" font-weight="bold" text-anchor="end" fill="#111" textLength="17.22" lengthAdjust="spacingAndGlyphs" stroke="#111" stroke-width="0.1">GL261</text>
<rect x="449.50" y="248.95" width="5.40" height="4.30" fill="#fff" stroke="#111" stroke-width="0.9"/>
<line x1="454.90" y1="251.10" x2="456.52" y2="251.10" stroke="#111" stroke-width="0.6"/>
<line x1="456.52" y1="250.10" x2="456.52" y2="252.10" stroke="#111" stroke-width="0.6"/>
<circle cx="453.80" cy="250.40" r="0.85" fill="#111"/>
<circle cx="453.60" cy="251.80" r="0.85" fill="#111"/>
<line x1="445.50" y1="258.92" x2="449.50" y2="258.92" stroke="#111" stroke-width="0.7"/>
<text x="445.20" y="260.92" font-size="5.6" font-weight="bold" text-anchor="end" fill="#111" textLength="50.04" lengthAdjust="spacingAndGlyphs" stroke="#111" stroke-width="0.1">CCL21, anti-CCL21</text>
<rect x="449.50" y="256.77" width="4.86" height="4.30" fill="#fff" stroke="#111" stroke-width="0.9"/>
<circle cx="453.26" cy="258.22" r="0.85" fill="#111"/>
<circle cx="453.06" cy="259.62" r="0.85" fill="#111"/>
<line x1="445.50" y1="266.74" x2="449.50" y2="266.74" stroke="#111" stroke-width="0.7"/>
<text x="445.20" y="268.74" font-size="5.6" font-weight="bold" text-anchor="end" fill="#111" textLength="46.60" lengthAdjust="spacingAndGlyphs" stroke="#111" stroke-width="0.1">CCL21, anti-CCR7</text>
<rect x="449.50" y="264.59" width="4.86" height="4.30" fill="#fff" stroke="#111" stroke-width="0.9"/>
<circle cx="453.26" cy="266.04" r="0.85" fill="#111"/>
<circle cx="453.06" cy="267.44" r="0.85" fill="#111"/>
<line x1="445.50" y1="274.56" x2="449.50" y2="274.56" stroke="#111" stroke-width="0.7"/>
<text x="445.20" y="276.56" font-size="5.6" font-weight="bold" text-anchor="end" fill="#111" textLength="17.63" lengthAdjust="spacingAndGlyphs" stroke="#111" stroke-width="0.1">CCL21</text>
<rect x="449.50" y="272.41" width="11.34" height="4.30" fill="#fff" stroke="#111" stroke-width="0.9"/>
<line x1="460.84" y1="274.56" x2="466.24" y2="274.56" stroke="#111" stroke-width="0.6"/>
<line x1="466.24" y1="273.56" x2="466.24" y2="275.56" stroke="#111" stroke-width="0.6"/>
<circle cx="459.74" cy="273.86" r="0.85" fill="#111"/>
<circle cx="459.54" cy="275.26" r="0.85" fill="#111"/>
<line x1="445.50" y1="282.38" x2="449.50" y2="282.38" stroke="#111" stroke-width="0.7"/>
<text x="445.20" y="284.38" font-size="5.6" font-weight="bold" text-anchor="end" fill="#111" textLength="20.26" lengthAdjust="spacingAndGlyphs" stroke="#111" stroke-width="0.1">no treat</text>
<rect x="449.50" y="280.23" width="6.48" height="4.30" fill="#fff" stroke="#111" stroke-width="0.9"/>
<line x1="455.98" y1="282.38" x2="457.06" y2="282.38" stroke="#111" stroke-width="0.6"/>
<line x1="457.06" y1="281.38" x2="457.06" y2="283.38" stroke="#111" stroke-width="0.6"/>
<circle cx="454.88" cy="281.68" r="0.85" fill="#111"/>
<circle cx="454.68" cy="283.08" r="0.85" fill="#111"/>
<text x="476.60" y="305.60" font-size="5.6" font-weight="bold" text-anchor="middle" fill="#111" textLength="53.80" lengthAdjust="spacingAndGlyphs" stroke="#111" stroke-width="0.1">%of CD45+CD11c+</text>
<line x1="325.50" y1="209.00" x2="325.50" y2="216.40" stroke="#111" stroke-width="0.9"/>
<line x1="325.50" y1="212.60" x2="366.50" y2="212.60" stroke="#111" stroke-width="0.9"/>
<line x1="366.50" y1="212.60" x2="366.50" y2="277.50" stroke="#111" stroke-width="0.9"/>
<line x1="358.00" y1="223.30" x2="366.50" y2="223.30" stroke="#111" stroke-width="0.9"/>
<line x1="359.00" y1="277.50" x2="366.50" y2="277.50" stroke="#111" stroke-width="0.9"/>
<text x="369.20" y="220.51" font-size="5.0" font-weight="bold" text-anchor="middle" fill="#000">*</text>
<text x="369.20" y="252.71" font-size="5.0" font-weight="bold" text-anchor="middle" fill="#000" transform="rotate(90 369.20 250.20)">**</text>
<line x1="327.00" y1="231.70" x2="351.50" y2="231.70" stroke="#111" stroke-width="0.9"/>
<line x1="351.50" y1="231.70" x2="351.50" y2="277.50" stroke="#111" stroke-width="0.9"/>
<line x1="346.00" y1="245.50" x2="351.50" y2="245.50" stroke="#111" stroke-width="0.9"/>
<line x1="346.00" y1="277.50" x2="351.50" y2="277.50" stroke="#111" stroke-width="0.9"/>
<text x="354.80" y="241.31" font-size="5.0" font-weight="bold" text-anchor="middle" fill="#000" transform="rotate(90 354.80 238.80)">**</text>
<text x="354.60" y="263.11" font-size="5.0" font-weight="bold" text-anchor="middle" fill="#000" transform="rotate(90 354.60 260.60)">**</text>
<line x1="328.50" y1="254.20" x2="328.50" y2="261.60" stroke="#111" stroke-width="0.9"/>
<line x1="328.50" y1="257.50" x2="340.50" y2="257.50" stroke="#111" stroke-width="0.9"/>
<line x1="340.50" y1="257.50" x2="340.50" y2="277.50" stroke="#111" stroke-width="0.9"/>
<line x1="336.40" y1="269.50" x2="340.50" y2="269.50" stroke="#111" stroke-width="0.9"/>
<line x1="336.40" y1="277.50" x2="340.50" y2="277.50" stroke="#111" stroke-width="0.9"/>
<text x="344.00" y="266.11" font-size="5.0" font-weight="bold" text-anchor="middle" fill="#000">*</text>
<text x="344.00" y="275.71" font-size="5.0" font-weight="bold" text-anchor="middle" fill="#000" transform="rotate(90 344.00 273.20)">**</text>
<text x="54.40" y="21.30" font-size="4.3" font-weight="bold" text-anchor="middle" fill="#222" textLength="32.50" lengthAdjust="spacingAndGlyphs" stroke="#222" stroke-width="0.18">Normal and tumor</text>
<text x="54.60" y="25.70" font-size="4.3" font-weight="bold" text-anchor="middle" fill="#222" textLength="23.00" lengthAdjust="spacingAndGlyphs" stroke="#222" stroke-width="0.18">bearing mice</text>
<text x="118.40" y="29.80" font-size="4.3" font-weight="bold" text-anchor="middle" fill="#222" textLength="27.50" lengthAdjust="spacingAndGlyphs" stroke="#222" stroke-width="0.18">Organ isolation</text>
<text x="41.60" y="95.00" font-size="4.3" font-weight="bold" text-anchor="middle" fill="#222" textLength="10.50" lengthAdjust="spacingAndGlyphs" stroke="#222" stroke-width="0.18">qPCR</text>
<text x="113.60" y="98.80" font-size="4.4" font-weight="normal" text-anchor="middle" fill="#222" textLength="27.00" lengthAdjust="spacingAndGlyphs" stroke="#222" stroke-width="0.12">Flow cytometry</text>
<g>
<path d="M74 48.9 C77 49.5 80 50.5 82 52.5 C84 55 84 57.5 82.3 58.4 C80 59.8 77 59.8 75.1 59.6 C71 59.4 67 59 64.4 58.4 C60 57.8 56.5 57.2 53.6 56.6" fill="none" stroke="#d3938b" stroke-width="1.25" stroke-linecap="round"/>
<path d="M43.6 50 C43 52 42 53.2 40.6 53.5 L36.4 53.6" fill="none" stroke="#d3938b" stroke-width="1.2" stroke-linecap="round"/>
<path d="M60.4 51.6 C62 54.2 66 54.8 70.8 54.2 L71.2 51.6 Z" fill="#d3938b"/>
<path d="M29.8 40.5 C31 38 34 36 37 35.7 L40 33.8 C41.5 33 43.5 33 44 35.2 C47 35.6 51 36 54.8 36.3 C59 36.8 62 37.6 64.4 38.7 C67.5 40 70 41.5 71.5 42.9 C73.3 44.5 74.5 46 74.6 47.6 C74.8 49.4 73 51.2 70.3 51.8 C67 52.4 64 52.6 60.8 52.4 C56 52.4 52 52.2 48.9 51.8 C46.5 51.5 44.5 51.2 43.5 50.7 C42.5 49 41.6 47.5 40.5 46.5 C38.5 45.2 36.5 44.6 34.5 44 C32.5 43.3 30.6 42.2 29.8 40.5 Z" fill="#4c4a4a"/>
<ellipse cx="44.4" cy="38.4" rx="2.1" ry="2.7" fill="#d49a94"/>
<circle cx="36.3" cy="39.3" r="0.55" fill="#111"/>
</g>
<path d="M106.6 35.3 C110 35.3 112.2 38.5 112.2 42.6 C112.2 46.4 109.8 48.5 106.6 48.5 C103.4 48.5 101 46.4 101 42.6 C101 38.5 103.2 35.3 106.6 35.3 Z" fill="#d6a0aa"/>
<ellipse cx="105.0" cy="41.0" rx="2.4" ry="3.6" fill="#e2b3bb"/>
<ellipse cx="108.4" cy="41.6" rx="2.0" ry="3.4" fill="#ddabb4"/>
<path d="M106.8 35.8 C106.4 40 107.2 44 106.6 48" fill="none" stroke="#c98f99" stroke-width="0.35"/>
<path d="M122.6 35.7 C124.4 36.2 124.2 38.6 123.6 41 C123.2 43.5 124.4 46.4 123.6 47.8 C122.4 48.8 120.6 47.2 120.1 44.6 C119.5 41.4 119.8 38.4 120.8 36.6 C121.3 35.9 121.9 35.6 122.6 35.7 Z" fill="#9b2c36"/>
<path d="M133.6 36.4 L132.9 39.5 L133.4 42.4" fill="none" stroke="#9ed69a" stroke-width="0.6"/>
<path d="M133.2 42.2 C134.6 43 135 45 134.2 47.2 C133.6 48 132.6 47.6 132.4 46.4 C132.2 45 132.4 43.4 133.2 42.2 Z" fill="#57b35c"/>
<ellipse cx="107.5" cy="60.2" rx="6.1" ry="4.6" fill="#d42a3a"/>
<ellipse cx="107.2" cy="59.6" rx="3.6" ry="2.4" fill="#bc1d2d"/>
<path d="M122.6 57.2 L121.9 67.4" fill="none" stroke="#c9a46b" stroke-width="0.9" stroke-linecap="round"/>
<ellipse cx="122.7" cy="57.1" rx="1.4" ry="1.1" fill="#c9a46b"/>
<ellipse cx="121.9" cy="67.4" rx="0.9" ry="0.7" fill="#c48f55"/>
<g fill="none" stroke="#222" stroke-width="0.55">
<path d="M79 29.6 C84 27 90 27 94 30"/>
<path d="M99 73.5 C90 76 83 82 80.5 88.5"/>
<path d="M117.5 76 C124 78.5 128.5 83 130 89"/>
</g>
<g fill="#222">
<path d="M95.6 31.8 L92.6 30.6 L94.6 28.8 Z"/>
<path d="M80 90.2 L79.6 87 L82.2 87.8 Z"/>
<path d="M130.4 90.6 L128.6 88 L131.4 87.6 Z"/>
</g>
<g>
<path d="M36.3 113.5 C34 114.5 31.5 116.5 30.8 119.5 L30.4 128 C30.5 130 31.2 131 32.2 131.4 L46.5 136.8 L65.6 127.6 L71 125.5 L71.5 112.4 C70.5 110.5 69 109.4 66.8 109.4 L52.4 109.4 Z" fill="#f2f2f2" stroke="#d6d6d6" stroke-width="0.35"/>
<path d="M30.8 119.5 C31.5 116.5 34 114.5 36.3 113.5 L48 119 L46.5 136.8 L32.2 131.4 C31.2 131 30.5 130 30.4 128 Z" fill="#fbfbfb"/>
<path d="M48 119 L71.5 112.4 L71 125.5 L65.6 127.6 L46.5 136.8 Z" fill="#e6e6e6"/>
<path d="M38.4 115.8 L47.2 118.2 L46.6 124.6 L36.2 122.8 Z" fill="#363636"/>
<path d="M31.6 130.4 L46.5 136 L46.5 138.2 L32.6 132.8 Z" fill="#3fb36b"/>
<path d="M46.5 136 L65.6 127.2 L71 125 L71 127 L65.8 129.2 L46.5 138.2 Z" fill="#3aa863"/>
<circle cx="41.1" cy="130.8" r="0.6" fill="#3fb36b"/>
<path d="M50.6 111.2 L58.6 111.2 L60.2 114.1 L48.4 114.1 Z" fill="#43ad62"/>
<path d="M64.4 96.6 L69.6 95.4 L67.4 104 L64.6 109.6 Z" fill="#e2e2e2"/>
<path d="M50.4 96 L64.4 96.6 L64.2 110 L51.4 109.4 Z" fill="#ededed" stroke="#c6c6c6" stroke-width="0.35"/>
<path d="M52.2 97.3 L62.2 97.8 L61.8 107.4 L52.6 107 Z" fill="#3a3a3a"/>
<circle cx="57.2" cy="102.4" r="2.4" fill="#6a6a6a"/>
<path d="M52.8 91.8 L70.4 93.8 L68.8 97.6 L52.4 96.2 Z" fill="#3cb36c"/>
</g>
<g>
<path d="M102.6 107 L103.8 105 L134.2 104.6 L134.2 106.2 L125.8 106.6 Z" fill="#4964c0"/>
<path d="M102 106.4 L125.8 106.4 L125.8 129.6 L102 129.6 Z" fill="#2f4ba8"/>
<path d="M125.8 106.4 L134.2 104.8 L134.2 127.8 L125.8 129.6 Z" fill="#243d92"/>
<path d="M110.9 114.7 L118 114.7 L119.2 117 L122.4 117 L122.8 115.8 L127.6 117.8 L127.6 130.2 L110.9 130.2 Z" fill="#ececec"/>
<path d="M122.8 115.8 L127.6 117.8 L127.6 130.2 L122.8 128.6 Z" fill="#cdcdcd"/>
<path d="M111.5 129 L127.6 128.6 L127.8 131.2 L119.8 133.8 L111.5 131.4 Z" fill="#545454"/>
<rect x="104.3" y="106.6" width="5.6" height="1.8" fill="#a9b3d6"/>
<rect x="120.6" y="117.4" width="1.8" height="1.2" fill="#333"/>
</g>
<text x="5.50" y="11.30" font-size="8.4" font-weight="bold" text-anchor="start" fill="#000" textLength="5.60" lengthAdjust="spacingAndGlyphs" stroke="#000" stroke-width="0.1">A</text>
<text x="166.40" y="11.30" font-size="8.4" font-weight="bold" text-anchor="start" fill="#000" textLength="4.80" lengthAdjust="spacingAndGlyphs" stroke="#000" stroke-width="0.1">B</text>
<text x="324.10" y="11.30" font-size="8.4" font-weight="bold" text-anchor="start" fill="#000" textLength="5.10" lengthAdjust="spacingAndGlyphs" stroke="#000" stroke-width="0.1">C</text>
<text x="434.30" y="11.30" font-size="8.4" font-weight="bold" text-anchor="start" fill="#000" textLength="6.00" lengthAdjust="spacingAndGlyphs" stroke="#000" stroke-width="0.1">D</text>
<text x="246.50" y="188.60" font-size="8.4" font-weight="bold" text-anchor="start" fill="#000" textLength="4.40" lengthAdjust="spacingAndGlyphs" stroke="#000" stroke-width="0.1">F</text>
</svg>
</body></html>
